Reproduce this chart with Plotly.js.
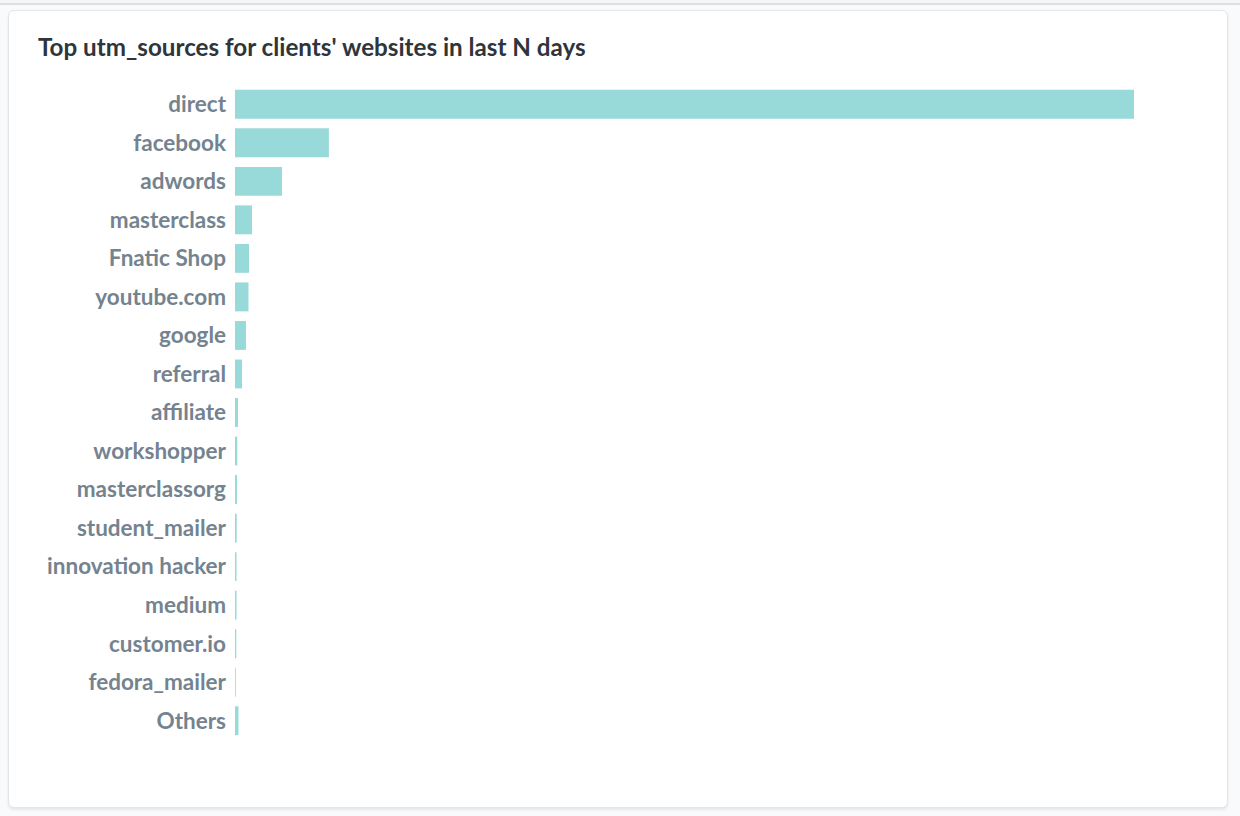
<!DOCTYPE html>
<html>
<head>
<meta charset="utf-8">
<script src="https://cdn.plot.ly/plotly-3.0.1.min.js"></script>
<style>
  html, body { margin: 0; padding: 0; width: 1240px; height: 816px; background: #f9fafb; overflow: hidden; }
  #above { position: absolute; left: 0; top: 0; width: 1240px; height: 3px; border-bottom: 2px solid #dcdfe4; background: #f4f5f7; }
  #card { position: absolute; left: 8px; top: 10px; width: 1218px; height: 796px; background: #fff;
          border: 1px solid #e2e5e9; border-radius: 6px; box-shadow: 0 2px 3px rgba(0,0,0,0.08); }
  #chart { width: 1218px; height: 796px; }
</style>
</head>
<body>
<div id="above"></div>
<div id="card"><div id="chart"></div></div>
<script>
let sources = ["direct", "facebook", "adwords", "masterclass", "Fnatic Shop", "youtube.com", "google",
	"referral", "affiliate", "workshopper", "masterclassorg", "student_mailer", "innovation hacker",
	"medium", "customer.io", "fedora_mailer", "Others"];
let visits = [90000, 9400, 4700, 1700, 1400, 1350, 1100, 700, 300, 230, 200, 170, 150, 150, 130, 80, 350];

let bars = {
	type: 'bar',
	orientation: 'h',
	x: visits,
	y: sources,
	marker: { color: '#98d9d9' },
	hoverinfo: 'x+y'
};

let layout = {
	title: {
		text: "<b>Top utm_sources for clients' websites in last N days</b>",
		font: { family: 'Lato, sans-serif', size: 24.2, color: '#2e353b' },
		xref: 'container', x: 29 / 1218, xanchor: 'left',
		yref: 'container', y: 1 - 37 / 796, yanchor: 'middle'
	},
	width: 1218,
	height: 796,
	margin: { l: 226, r: 93, t: 74, b: 67 },
	paper_bgcolor: 'rgba(0,0,0,0)',
	plot_bgcolor: 'rgba(0,0,0,0)',
	bargap: 0.25,
	showlegend: false,
	xaxis: {
		range: [0, Math.max(...visits)],
		visible: false,
		showgrid: false,
		zeroline: false
	},
	yaxis: {
		autorange: 'reversed',
		showgrid: false,
		zeroline: false,
		showline: false,
		ticks: '',
		ticklabelstandoff: 8,
		tickfont: { family: 'Lato, sans-serif', size: 22.5, color: '#74838f', weight: 'bold' }
	}
};

Plotly.newPlot('chart', [bars], layout, { displayModeBar: false, staticPlot: true });
</script>
</body>
</html>
